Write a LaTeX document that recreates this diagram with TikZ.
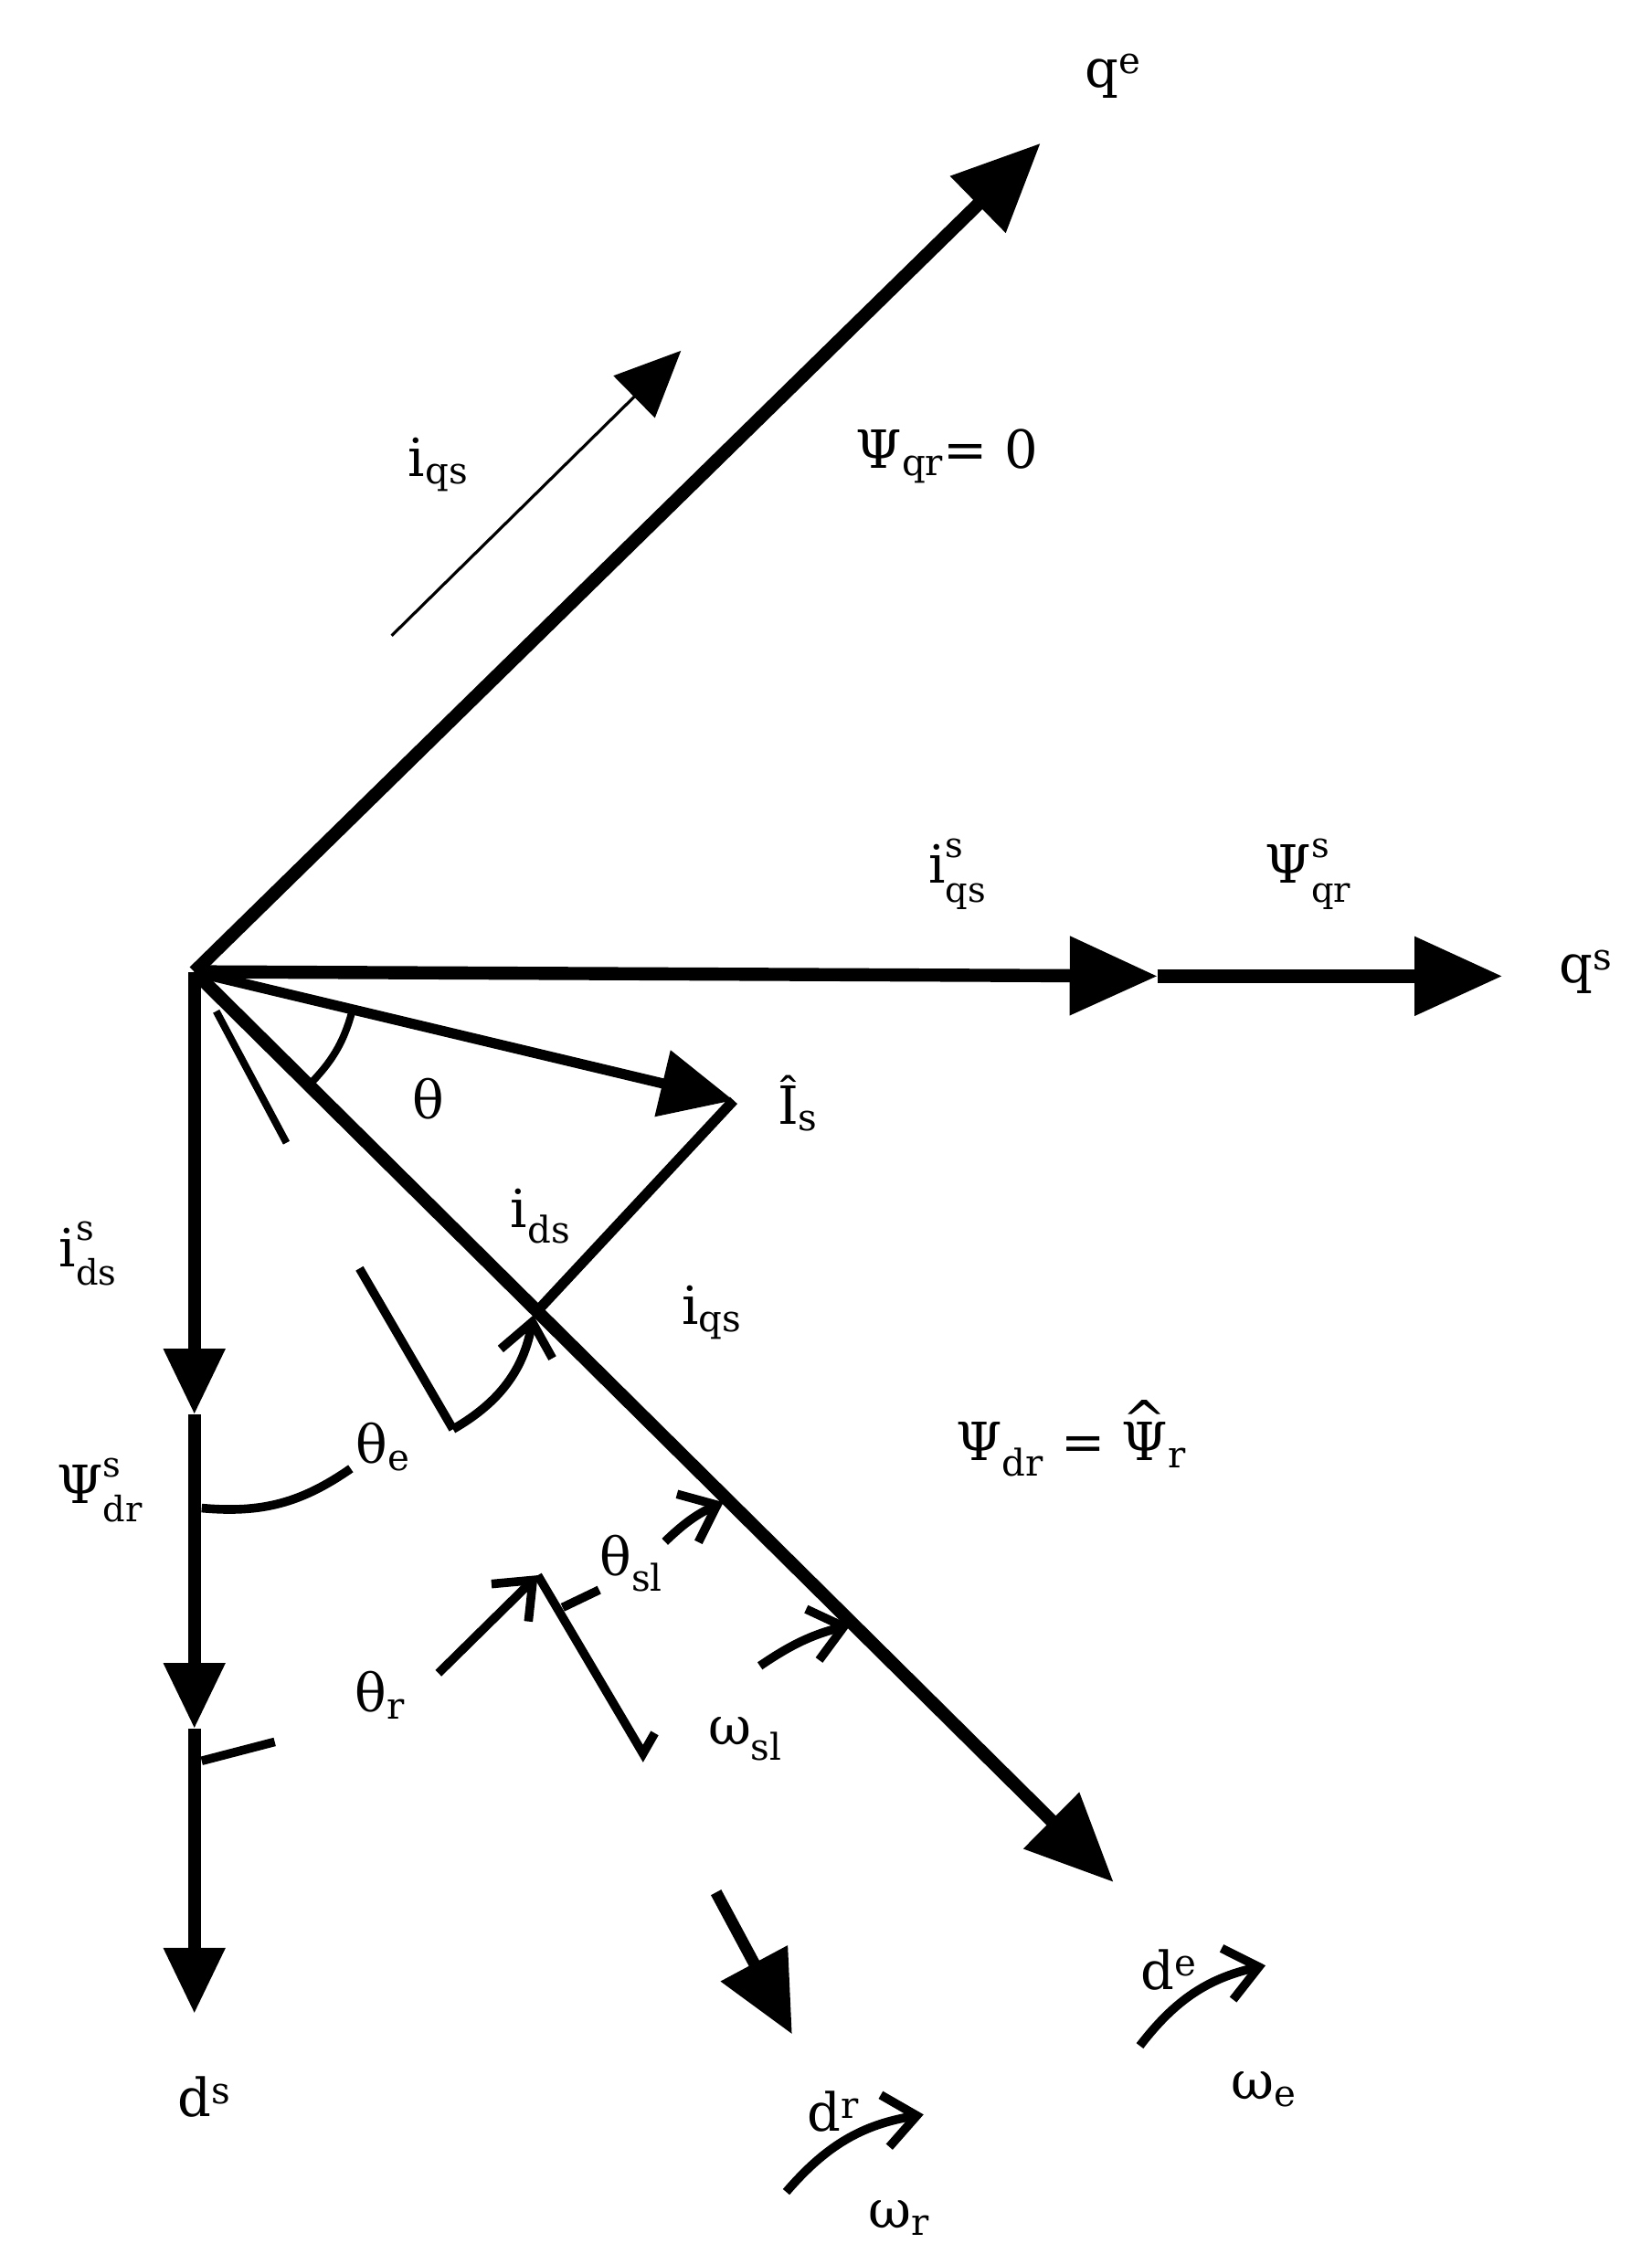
\documentclass[tikz,border=0pt]{standalone}
\usepackage{fontspec}
\setmainfont{DejaVu Serif}
\usetikzlibrary{arrows.meta}
\newcommand{\sbs}[2]{\rlap{\raisebox{0.5em}{\fontsize{24}{26}\selectfont #1}}\raisebox{-0.35em}{\fontsize{24}{26}\selectfont #2}}
\newcommand{\hatt}[1]{\ooalign{#1\cr\hidewidth\raisebox{0.42em}{\^{}}\hidewidth\cr}}
\begin{document}
\begin{tikzpicture}[x=1pt,y=-1pt,
  ax/.style={line width=9pt},
  big/.style={-{Triangle[length=60pt,width=52pt]}},
  mid/.style={-{Triangle[length=45pt,width=40pt]}},
  barb/.style={line width=6pt,-{Straight Barb[length=22pt,width=36pt,line width=6pt]}},
  lab/.style={font=\fontsize{36}{42}\selectfont, inner sep=0pt}]
\useasboundingbox (0,0) rectangle (1130,1550);
\coordinate (O) at (133,665);
\coordinate (qe) at (712,98);
\coordinate (qs) at (1028,668);
\coordinate (qsm) at (792,668);
\coordinate (de) at (762,1288);
\coordinate (ds) at (133,1378);
\coordinate (dsm1) at (133,968);
\coordinate (dsm2) at (133,1183);
\coordinate (Is) at (502,753);
\coordinate (X) at (365,900);
% axes
\draw[ax,big] (O) -- (qe);
\draw[ax,big] (O) -- (qsm);
\draw[ax,big] (qsm) -- (qs);
\draw[ax,big] (O) -- (de);
\draw[ax,mid] (O) -- (dsm1);
\draw[ax,mid] (dsm1) -- (dsm2);
\draw[ax,mid] (dsm2) -- (ds);
\draw[line width=7pt,-{Triangle[length=50pt,width=45pt]}] (O) -- (Is);
\draw[line width=7pt] (X) -- (Is);
% thin i_qs arrow
\coordinate (t1) at (268,435); \coordinate (t2) at (466,240);
\draw[line width=2pt,-{Triangle[length=45pt,width=40pt]}] (t1) -- (t2);
% theta arc
\coordinate (a1) at (242,688); \coordinate (a2) at (212,742);
\draw[line width=5pt] (a1) to[bend left=15] (a2);
\coordinate (k1) at (148,692); \coordinate (k2) at (196,782);
\draw[line width=5pt] (k1) -- (k2);
% theta_e
\coordinate (e1) at (246,868); \coordinate (e2) at (310,978);
\draw[line width=6pt] (e1) -- (e2);
\draw[barb] (e2) to[bend right=25] (X);
\coordinate (e3) at (138,1032); \coordinate (e4) at (240,1005);
\draw[line width=6pt] (e3) to[bend right=20] (e4);
% theta_sl
\coordinate (s1) at (455,1055); \coordinate (s2) at (495,1028);
\draw[barb] (s1) to[bend left=10] (s2);
% theta_r
\coordinate (r1) at (300,1145); \coordinate (r2) at (368,1078);
\draw[barb] (r1) -- (r2);
\coordinate (r3) at (440,1200);
\draw[line width=6pt] (r2) -- (r3) -- ++(8,-14);
\coordinate (r4) at (385,1100); \coordinate (r5) at (410,1088);
\draw[line width=6pt] (r4) -- (r5);
% omega_sl
\coordinate (w1) at (520,1140); \coordinate (w2) at (582,1112);
\draw[barb] (w1) to[bend left=10] (w2);
% tick on ds
\coordinate (d1) at (138,1205); \coordinate (d2) at (188,1192);
\draw[line width=6pt] (d1) -- (d2);
% d^r arrow
\coordinate (dr1) at (490,1295); \coordinate (dr2) at (542,1392);
\draw[line width=8pt,-{Triangle[length=55pt,width=50pt]}] (dr1) -- (dr2);
% omega_e, omega_r
\coordinate (oe1) at (780,1400); \coordinate (oe2) at (866,1345);
\draw[barb] (oe1) to[bend left=20] (oe2);
\coordinate (or1) at (538,1500); \coordinate (or2) at (632,1447);
\draw[barb] (or1) to[bend left=20] (or2);
% labels
\node[lab] (Lqe) at (762,52) {q\textsuperscript{e}};
\node[lab] (Liqs) at (300,318) {i\textsubscript{qs}};
\node[lab] (Lpqr) at (648,312) {Ψ\textsubscript{qr}= 0};
\node[lab] (Liqss) at (655,598) {i\sbs{s}{qs}};
\node[lab] (Lpqrs) at (895,598) {Ψ\sbs{s}{qr}};
\node[lab] (Lqs) at (1085,665) {q\textsuperscript{s}};
\node[lab] (LIs) at (546,755) {Î\textsubscript{s}};
\node[lab] (Lth) at (293,752) {θ};
\node[lab] (Lids) at (370,832) {i\textsubscript{ds}};
\node[lab] (Liqs2) at (487,898) {i\textsubscript{qs}};
\node[lab] (Lidss) at (60,858) {i\sbs{s}{ds}};
\node[lab] (Lthe) at (262,990) {θ\textsubscript{e}};
\node[lab] (Lpdr) at (733,992) {Ψ\textsubscript{dr} = \hatt{Ψ}\textsubscript{r}};
\node[lab] (Lpdrs) at (68,1020) {Ψ\sbs{s}{dr}};
\node[lab] (Lthsl) at (432,1070) {θ\textsubscript{sl}};
\node[lab] (Lthr) at (260,1160) {θ\textsubscript{r}};
\node[lab] (Lwsl) at (510,1190) {ω\textsubscript{sl}};
\node[lab] (Lds) at (140,1435) {d\textsuperscript{s}};
\node[lab] (Lde) at (800,1348) {d\textsuperscript{e}};
\node[lab] (Lwe) at (865,1430) {ω\textsubscript{e}};
\node[lab] (Ldr) at (570,1445) {d\textsuperscript{r}};
\node[lab] (Lwr) at (615,1518) {ω\textsubscript{r}};
\end{tikzpicture}
\end{document}
